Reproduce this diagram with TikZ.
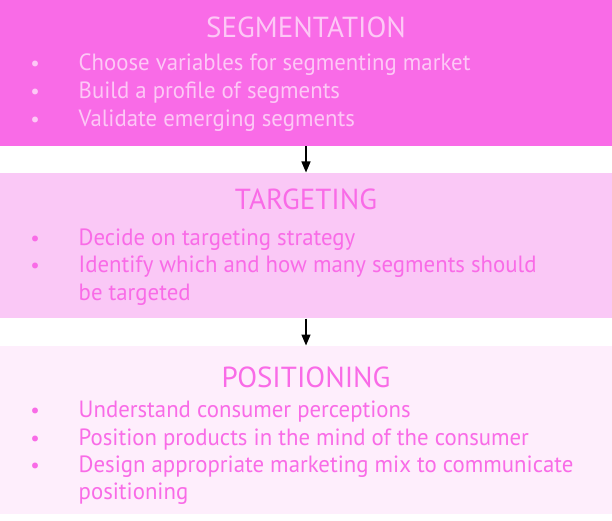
\documentclass[tikz,border=0pt]{standalone}
\usepackage{fontspec}
\setmainfont{PT Sans}
\newfontfamily\bodyfont[FakeStretch=0.97]{PT Sans}
\usetikzlibrary{arrows.meta}
\definecolor{segfill}{HTML}{F96BE7}
\definecolor{segtext}{HTML}{FDC8F6}
\definecolor{tarfill}{HTML}{FAC8F6}
\definecolor{posfill}{HTML}{FEEEFC}
\definecolor{darktext}{HTML}{F96BE7}
\tikzset{
  box/.style={rectangle, inner sep=0pt, draw=none, minimum width=612pt},
  title/.style={anchor=base, inner sep=0pt, font=\fontsize{29}{29}\selectfont},
  line/.style={anchor=base west, inner sep=0pt, font=\bodyfont\fontsize{23.5}{23.5}\selectfont},
  dot/.style={anchor=base, inner sep=0pt, font=\fontsize{21}{21}\selectfont},
  flow/.style={draw=black, line width=1.4pt, -{Triangle[length=11pt,width=9pt]}}
}
\begin{document}
\begin{tikzpicture}[x=1pt,y=-1pt]
\useasboundingbox (0,0) rectangle (612,521);
\node[box, fill=segfill, minimum height=146pt] (seg) at (306,73) {};
\node[box, fill=tarfill, minimum height=145.6pt] (tar) at (306,245.5) {};
\node[box, fill=posfill, minimum height=168.6pt] (pos) at (306,430) {};
\draw[flow] (seg.south) -- (tar.north);
\draw[flow] (tar.south) -- (pos.north);
% segmentation
\node[title, text=segtext] (t1) at (306,38) {SEGMENTATION};
\node[dot, text=segtext] (b11) at (35,71) {•};
\node[line, text=segtext] (l11) at (78.5,71) {Choose variables for segmenting market};
\node[dot, text=segtext] (b12) at (35,99) {•};
\node[line, text=segtext] (l12) at (78.5,99) {Build a profile of segments};
\node[dot, text=segtext] (b13) at (35,126.5) {•};
\node[line, text=segtext] (l13) at (78.5,126.5) {Validate emerging segments};
% targeting
\node[title, text=darktext] (t2) at (306,210) {TARGETING};
\node[dot, text=darktext] (b21) at (35,245) {•};
\node[line, text=darktext] (l21) at (78.5,245) {Decide on targeting strategy};
\node[dot, text=darktext] (b22) at (35,272.5) {•};
\node[line, text=darktext] (l22) at (78.5,272.5) {Identify which and how many segments should};
\node[line, text=darktext] (l23) at (78.5,300) {be targeted};
% positioning
\node[title, text=darktext] (t3) at (306,387.3) {POSITIONING};
\node[dot, text=darktext] (b31) at (35,417) {•};
\node[line, text=darktext] (l31) at (78.5,417) {Understand consumer perceptions};
\node[dot, text=darktext] (b32) at (35,445) {•};
\node[line, text=darktext] (l32) at (78.5,445) {Position products in the mind of the consumer};
\node[dot, text=darktext] (b33) at (35,472) {•};
\node[line, text=darktext] (l33) at (78.5,472) {Design appropriate marketing mix to communicate};
\node[line, text=darktext] (l34) at (78.5,499) {positioning};
\end{tikzpicture}
\end{document}
